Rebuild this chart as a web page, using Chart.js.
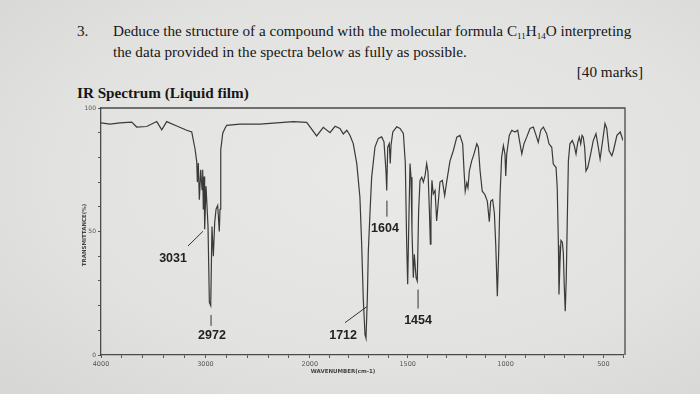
<!DOCTYPE html>
<html>
<head>
<meta charset="utf-8">
<script src="https://cdn.jsdelivr.net/npm/chart.js@4.4.0/dist/chart.umd.min.js"></script>
<style>
  html, body { margin: 0; padding: 0; }
  body {
    width: 700px; height: 394px; position: relative; overflow: hidden;
    background: radial-gradient(ellipse at 55% 45%, #e9e9e7 0%, #e2e2e0 60%, #d6d6d4 100%);
    font-family: "Liberation Serif", "Times New Roman", serif;
    color: #161616;
  }
  .t { position: absolute; font-size: 15.2px; line-height: 18px; white-space: nowrap; }
  .t sub { font-size: 9px; vertical-align: -3px; line-height: 0; }
  #chart { position: absolute; left: 0; top: 0; }
</style>
</head>
<body>
<div class="t" style="left:77px; top:22px;">3.</div>
<div class="t" style="left:113px; top:22px;">Deduce the structure of a compound with the molecular formula C<sub>11</sub>H<sub>14</sub>O interpreting</div>
<div class="t" style="left:113px; top:43px;">the data provided in the spectra below as fully as possible.</div>
<div class="t" style="right:57px; top:63px;">[40 marks]</div>
<div class="t" style="left:77px; top:84px; font-weight:bold;">IR Spectrum (Liquid film)</div>
<canvas id="chart" width="700" height="394"></canvas>
<script>
// IR SPECTRUM DATA
const wavenumbers = [
  4000, 3914, 3818, 3706, 3658, 3562, 3466, 3418, 3371, 3291, 3179, 3131, 3100, 3083,
  3077, 3068, 3058, 3045, 3032, 3026, 3020, 3013, 3007, 2994, 2975, 2962, 2949, 2937,
  2924, 2911, 2898, 2882, 2867, 2860, 2853, 2834, 2812, 2796, 2668, 2477, 2317, 2158,
  2030, 1965, 1931, 1897, 1871, 1846, 1829, 1811, 1795, 1778, 1760, 1744, 1735, 1727,
  1718, 1713, 1706, 1701, 1692, 1684, 1667, 1650, 1633, 1621, 1611, 1607, 1602, 1594,
  1589, 1585, 1576, 1556, 1539, 1522, 1512, 1505, 1500, 1493, 1488, 1483, 1478, 1471,
  1466, 1457, 1451, 1444, 1437, 1428, 1420, 1411, 1403, 1396, 1389, 1384, 1381, 1376,
  1369, 1360, 1352, 1343, 1335, 1323, 1311, 1301, 1284, 1267, 1249, 1233, 1219, 1212,
  1206, 1198, 1192, 1185, 1173, 1161, 1147, 1139, 1130, 1119, 1105, 1093, 1083, 1076,
  1066, 1057, 1050, 1042, 1035, 1028, 1020, 1011, 1003, 999, 994, 981, 968, 952,
  938, 926, 917, 906, 892, 875, 858, 844, 833, 820, 807, 790, 778, 764,
  756, 742, 736, 730, 727, 722, 717, 710, 705, 700, 695, 690, 684, 679,
  671, 659, 649, 640, 631, 623, 616, 609, 603, 596, 589, 580, 565, 552,
  538, 526, 517, 504, 492, 483, 471, 457, 449, 431, 414, 400
];
const transmittance = [
  94, 93.5, 94, 94.3, 92.3, 92.5, 94.5, 91.2, 94.5, 93, 91, 90.3, 83.6, 78.3,
  70, 77.7, 62.9, 75, 66.9, 75, 58.9, 72.3, 50.9, 68.3, 52, 21.3, 20, 52,
  40, 53.6, 59, 60.5, 50, 59, 83, 89.8, 91.8, 93, 93.5, 93.5, 94, 94.5,
  94.2, 88.7, 92.2, 90, 92.6, 91.7, 89.5, 91, 89, 85.6, 77.5, 63.9, 44.9, 23.1,
  8.2, 6.8, 23.1, 42.1, 58.4, 72, 84.2, 87.7, 88.3, 86.3, 74.7, 66.6, 84.2, 85.6,
  77.5, 85, 90.3, 92.4, 91.7, 89.7, 77.5, 44.9, 28.6, 58.4, 77.5, 72, 50.3, 31.3,
  40.8, 31.3, 29.9, 58.4, 70.7, 72, 70, 72.7, 77.5, 74, 58.4, 44.9, 58.4, 70.7,
  65.2, 66.6, 54.3, 62.5, 70, 70.7, 64.5, 70, 78.5, 82.7, 88.2, 88.9, 85.5, 74.5,
  66.3, 69.7, 67.7, 74.5, 78.6, 81.4, 85.5, 84.1, 74.5, 66.3, 64.9, 62.2, 54, 62.2,
  62.9, 57.4, 44.4, 23.8, 41.6, 64.9, 80, 84.8, 81.4, 72.5, 81.4, 88.9, 91, 90.3,
  91, 85.5, 81.4, 85.5, 88.2, 91.7, 92.3, 88.9, 86.1, 91, 92.3, 89.6, 85.5, 84.1,
  77.3, 75.9, 67.7, 44.4, 24.5, 37.5, 46.4, 45.7, 41.6, 27.9, 17.7, 30.7, 57.4, 78.6,
  85.5, 86.8, 84.8, 81.4, 86.1, 88.2, 85.5, 88.9, 88.2, 84.1, 74.5, 75.9, 81.4, 86.8,
  89.6, 84.1, 79.3, 86.8, 93.7, 91.7, 82.7, 80.7, 82.7, 88.9, 90.3, 86.8
];

// peaks marked on the spectrum
const peakLabels = ['3031', '2972', '1712', '1604', '1454'];

// axis ticks
const xMajorTicks = [4000, 3000, 2000, 1500, 1000, 500];
const xTicks = [4000, 3800, 3600, 3400, 3200, 3000, 2800, 2600, 2400, 2200, 2000,
  1900, 1800, 1700, 1600, 1500, 1400, 1300, 1200, 1100, 1000, 900, 800, 700, 600, 500, 400];
const yMajorTicks = [0, 50, 100];

// IR axis: 4000-2000 compressed, 2000-400 expanded
const BREAK = 2000;
const SPLIT = 0.4;

class IRScale extends Chart.LinearScale {
    getPixelForValue(v) {
        const f = v >= BREAK
            ? (this.max - v) / (this.max - BREAK) * SPLIT
            : SPLIT + (BREAK - v) / (BREAK - this.min) * (1 - SPLIT);
        return this.left + f * this.width;
    }
    getValueForPixel(p) {
        const f = (p - this.left) / this.width;
        return f <= SPLIT
            ? this.max - f / SPLIT * (this.max - BREAK)
            : BREAK - (f - SPLIT) / (1 - SPLIT) * (BREAK - this.min);
    }
    buildTicks() {
        return xTicks.map(v => ({ value: v }));
    }
}
IRScale.id = 'ir';
IRScale.defaults = Chart.LinearScale.defaults;
Chart.register(IRScale);

// annotation placement for the peak labels (value space: [wavenumber, %T])
const peakStyle = [
    { text: [3310, 39.2], line: [[3167, 44.1], [3023, 50.1]] },
    { text: [2937, 7.8],  line: [[2946, 16.2], [2946, 11.8]] },
    { text: [1830, 7.8],  line: [[1820, 13.1], [1708, 19.6]] },
    { text: [1616, 51],   line: [[1606, 62.5], [1606, 56]] },
    { text: [1447, 13.8], line: [[1447, 26.5], [1447, 18.8]] }
];

const irDecor = {
    id: 'irDecor',
    afterDraw(chart) {
        const { ctx, chartArea: a, scales: { x, y } } = chart;
        ctx.save();
        // frame top + right
        ctx.strokeStyle = '#4a4a4a';
        ctx.lineWidth = 1.3;
        ctx.beginPath();
        ctx.moveTo(a.left, a.top);
        ctx.lineTo(a.right + 2, a.top);
        ctx.lineTo(a.right + 2, a.bottom);
        ctx.stroke();

        // peak labels
        ctx.fillStyle = '#222';
        ctx.strokeStyle = '#333';
        ctx.lineWidth = 1;
        ctx.font = 'bold 12.5px "Liberation Sans", Arial, sans-serif';
        ctx.textAlign = 'center';
        ctx.textBaseline = 'middle';
        peakLabels.forEach((lab, i) => {
            const s = peakStyle[i];
            ctx.fillText(lab, x.getPixelForValue(s.text[0]), y.getPixelForValue(s.text[1]));
            ctx.beginPath();
            ctx.moveTo(x.getPixelForValue(s.line[0][0]), y.getPixelForValue(s.line[0][1]));
            ctx.lineTo(x.getPixelForValue(s.line[1][0]), y.getPixelForValue(s.line[1][1]));
            ctx.stroke();
        });

        // axis titles
        ctx.fillStyle = '#444';
        ctx.font = 'bold 5.5px "DejaVu Sans", sans-serif';
        ctx.fillText('WAVENUMBER(cm-1)', 343, 372);
        ctx.translate(85, 235);
        ctx.rotate(-Math.PI / 2);
        ctx.fillText('TRANSMITTANCE(%)', 0, 0);
        ctx.restore();
    }
};

const el = document.getElementById('chart');
new Chart(el, {
    type: 'line',
    data: {
        datasets: [{
            data: wavenumbers.map((w, i) => ({ x: w, y: transmittance[i] })),
            borderColor: '#3a3a3a',
            borderWidth: 1.2,
            pointRadius: 0,
            tension: 0,
            fill: false
        }]
    },
    options: {
        responsive: false,
        animation: false,
        layout: { padding: { left: 0, top: 108, right: 77, bottom: 0 } },
        plugins: { legend: { display: false }, tooltip: { enabled: false } },
        scales: {
            x: {
                type: 'ir',
                min: 400,
                max: 4000,
                afterFit: (s) => { s.height = 39; },
                border: { display: true, color: '#4a4a4a', width: 1.3 },
                grid: { drawOnChartArea: false, drawTicks: true, tickLength: 3, color: '#555' },
                ticks: {
                    autoSkip: false,
                    maxRotation: 0,
                    padding: 2,
                    color: '#555',
                    font: { size: 6.5, family: '"DejaVu Sans", sans-serif' },
                    callback: (v) => xMajorTicks.includes(v) ? String(v) : ''
                }
            },
            y: {
                min: 0,
                max: 100,
                afterFit: (s) => { s.width = 101; },
                border: { display: true, color: '#4a4a4a', width: 1.3 },
                grid: { drawOnChartArea: false, drawTicks: true, tickLength: 3, color: '#555' },
                ticks: {
                    stepSize: 10,
                    padding: 2,
                    color: '#555',
                    font: { size: 6, family: '"DejaVu Sans", sans-serif' },
                    callback: (v) => yMajorTicks.includes(v) ? String(v) : ''
                }
            }
        }
    },
    plugins: [irDecor]
});
</script>
</body>
</html>
